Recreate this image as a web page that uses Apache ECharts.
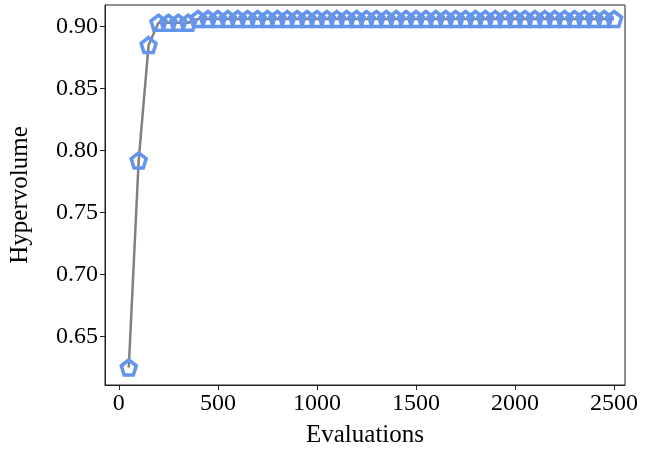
<!DOCTYPE html>
<html><head><meta charset="utf-8">
<script src="https://cdn.jsdelivr.net/npm/echarts@6/dist/echarts.min.js"></script>
<style>html,body{margin:0;padding:0;background:#fff}#c{width:645px;height:453px}</style>
</head><body><div id="c"></div>
<script>
const evaluations=[];
for(let e=50;e<=2500;e+=50) evaluations.push(e);
const earlyValues=[0.625,0.792,0.885,0.903,0.903,0.903,0.903];
const plateauValue=0.906;
const hypervolume=evaluations.map((e,i)=>i<earlyValues.length?earlyValues[i]:plateauValue);
const points=evaluations.map((e,i)=>[e,hypervolume[i]]);
const xTicks=[0,500,1000,1500,2000,2500];
const yTicks=[0.65,0.7,0.75,0.8,0.85,0.9];

const font='Liberation Serif';
const chart=echarts.init(document.getElementById('c'));
chart.setOption({
  animation:false,
  grid:{left:94,right:20,top:5,bottom:60,show:true,borderColor:'#222',borderWidth:1},
  xAxis:{type:'value',min:-70,max:2555,
    name:'Evaluations',nameLocation:'middle',nameGap:38,
    nameTextStyle:{fontFamily:font,fontSize:25,color:'#000'},
    axisLine:{show:true,onZero:false,lineStyle:{color:'#222'}},
    axisTick:{show:true,length:5,lineStyle:{color:'#222'},customValues:xTicks},
    axisLabel:{fontFamily:font,fontSize:24,color:'#000',margin:7,
      customValues:xTicks,formatter:v=>String(v)},
    splitLine:{show:false}},
  yAxis:{type:'value',min:0.6109,max:0.9173,
    name:'Hypervolume',nameLocation:'middle',nameGap:72,
    nameTextStyle:{fontFamily:font,fontSize:25,color:'#000'},
    axisLine:{show:true,onZero:false,lineStyle:{color:'#222'}},
    axisTick:{show:true,length:5,lineStyle:{color:'#222'},customValues:yTicks},
    axisLabel:{fontFamily:font,fontSize:24,color:'#000',margin:7,
      customValues:yTicks,formatter:v=>v.toFixed(2)},
    splitLine:{show:false}},
  series:[{type:'line',data:points,
    symbol:'path://M0,-1L0.951,-0.309L0.588,0.809L-0.588,0.809L-0.951,-0.309Z',
    symbolSize:15,showAllSymbol:true,
    lineStyle:{color:'#808080',width:2.5},
    itemStyle:{color:'rgba(0,0,0,0)',borderColor:'#6495ED',borderWidth:3.5}}]
});
</script></body></html>
